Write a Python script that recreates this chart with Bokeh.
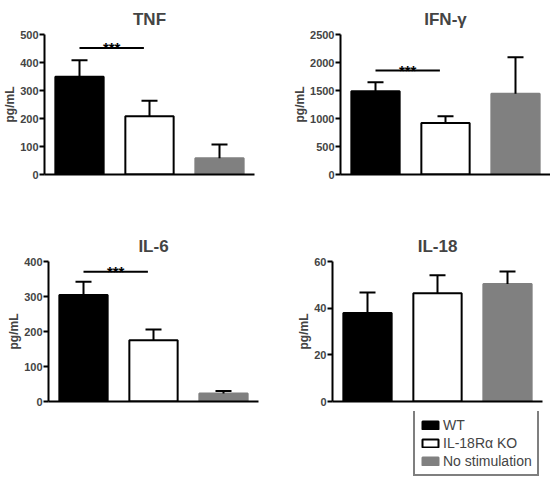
from bokeh.plotting import figure
from bokeh.models import (ColumnDataSource, FactorRange, Range1d, FixedTicker,
                          Whisker, TeeHead, Legend, LegendItem)
from bokeh.layouts import column, row
from bokeh.transform import dodge
from bokeh.core.properties import value
from bokeh.embed import file_html
from bokeh.resources import INLINE

groups = ["WT", "IL-18Rα KO", "No stimulation"]
bar_fill = ["#000000", "#ffffff", "#808080"]
bar_line = ["#000000", "#000000", "#808080"]

tnf_mean = [349, 208, 58]
tnf_err = [59, 55, 49]
ifn_mean = [1486, 919, 1444]
ifn_err = [161, 119, 650]
il6_mean = [304, 175, 23]
il6_err = [38, 31, 7]
il18_mean = [37.9, 46.4, 50.4]
il18_err = [8.8, 7.7, 5.3]

tnf_ticks = [0, 100, 200, 300, 400, 500]
ifn_ticks = [0, 500, 1000, 1500, 2000, 2500]
il6_ticks = [0, 100, 200, 300, 400]
il18_ticks = [0, 20, 40, 60]

# height of the WT vs KO significance bar (None = no bar)
tnf_sig = 452
ifn_sig = 1857
il6_sig = 371
il18_sig = None

FONT = "Liberation Sans"


def panel(title, mean, err, ticks, sig, bl, br, bt, bb):
    upper = [m + e for m, e in zip(mean, err)]
    src = ColumnDataSource(dict(g=groups, mean=mean, upper=upper,
                                fill=bar_fill, line=bar_line))
    p = figure(title=title, x_range=FactorRange(factors=groups, range_padding=0),
               y_range=Range1d(ticks[0], ticks[-1]),
               frame_width=210, frame_height=140,
               min_border_left=bl, min_border_right=br,
               min_border_top=bt, min_border_bottom=bb,
               output_backend="svg", toolbar_location=None, tools="")
    p.vbar(x="g", top="mean", bottom=0, width=0.69, source=src,
           fill_color="fill", line_color="line", line_width=2)
    p.add_layout(Whisker(base="g", lower="mean", upper="upper", source=src,
                         dimension="height", line_width=2, line_color="black",
                         upper_head=TeeHead(size=16, line_width=2, line_color="black"),
                         lower_head=None, level="overlay"))
    if sig is not None:
        s = ColumnDataSource(dict(a=[groups[0]], b=[groups[1]], y=[sig], t=["***"]))
        p.segment(x0=dodge("a", 0, range=p.x_range), x1=dodge("b", -0.08, range=p.x_range),
                  y0="y", y1="y", source=s, line_color="black", line_width=2)
        p.text(x=dodge("a", 0.46, range=p.x_range), y="y", text="t", source=s,
               text_align="center", text_baseline="alphabetic", y_offset=0,
               text_font=value(FONT), text_font_style="bold", text_font_size="15px",
               text_color="black")

    p.title.align = "center"
    p.title.text_font = FONT
    p.title.text_font_size = "17px"
    p.title.text_font_style = "bold"
    p.title.standoff = 12

    p.yaxis.ticker = FixedTicker(ticks=ticks)
    p.yaxis.axis_label = "pg/mL"
    p.yaxis.axis_label_text_font = FONT
    p.yaxis.axis_label_text_font_size = "12px"
    p.yaxis.axis_label_text_font_style = "bold"
    p.yaxis.axis_label_standoff = 0
    p.yaxis.major_label_text_font = FONT
    p.yaxis.major_label_text_font_size = "11px"
    p.yaxis.major_label_text_font_style = "bold"
    p.yaxis.major_label_standoff = 1
    p.yaxis.major_tick_in = 0
    p.yaxis.major_tick_out = 5
    p.yaxis.major_tick_line_width = 2
    p.yaxis.minor_tick_line_color = None

    p.xaxis.major_tick_line_color = None
    p.xaxis.minor_tick_line_color = None
    p.xaxis.major_tick_out = 0
    p.xaxis.major_label_standoff = 0
    p.xaxis.major_label_text_font_size = "0px"
    p.xaxis.major_label_text_color = None
    p.axis.axis_line_width = 2
    p.axis.axis_line_color = "black"

    p.grid.grid_line_color = None
    p.outline_line_color = None
    return p, src


f1, _ = panel("TNF", tnf_mean, tnf_err, tnf_ticks, tnf_sig, 43, 36, 34, 53)
f2, _ = panel("IFN-γ", ifn_mean, ifn_err, ifn_ticks, ifn_sig, 45, 4, 34, 53)
f3, _ = panel("IL-6", il6_mean, il6_err, il6_ticks, il6_sig, 48, 34, 34, 20)
f4, src4 = panel("IL-18", il18_mean, il18_err, il18_ticks, il18_sig, 40, 4, 34, 10)

# legend strip under the IL-18 panel (swatches come from hidden bars of the same data)
lf = figure(x_range=FactorRange(factors=groups), frame_width=210, frame_height=70,
            min_border_left=40, min_border_right=4, min_border_top=0, min_border_bottom=0,
            x_axis_location=None, y_axis_location=None,
            output_backend="svg", toolbar_location=None, tools="")
lf.outline_line_color = None
lf.grid.grid_line_color = None
key = lf.vbar(x="g", top="mean", bottom=0, width=0.69, source=src4,
              fill_color="fill", line_color="line", line_width=2, visible=False)
items = [LegendItem(label=g, renderers=[key], index=i) for i, g in enumerate(groups)]
legend = Legend(items=items, location=(81, 5), margin=0,
                border_line_color="black", border_line_width=2,
                padding=5, spacing=1, glyph_width=20, glyph_height=10,
                label_height=17, label_standoff=3,
                label_text_font=FONT, label_text_font_size="14px",
                background_fill_alpha=1)
lf.add_layout(legend)

layout = column(row(f1, f2), row(f3, column(f4, lf)))
open("out.html", "w").write(file_html(layout, INLINE))
